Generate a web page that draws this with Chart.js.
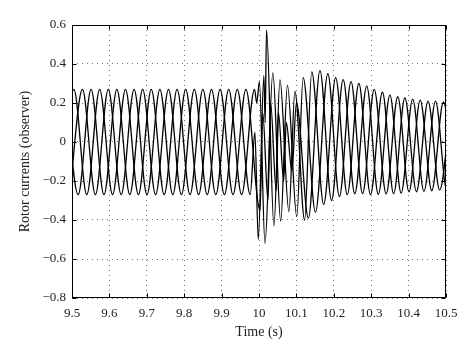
<!DOCTYPE html>
<html>
<head>
<meta charset="utf-8">
<script src="https://cdn.jsdelivr.net/npm/chart.js@4.4.0/dist/chart.umd.min.js"></script>
<style>
  html, body { margin: 0; padding: 0; background: #fff; }
  #wrap { width: 474px; height: 361px; }
</style>
</head>
<body>
<div id="wrap"><canvas id="rotorChart" width="474" height="361"></canvas></div>
<script>
'use strict';

// axis ticks
const timeTicks = [9.5, 9.6, 9.7, 9.8, 9.9, 10, 10.1, 10.2, 10.3, 10.4, 10.5];
const currentTicks = [-0.8, -0.6, -0.4, -0.2, 0, 0.2, 0.4, 0.6];

// phase a : turning points (time s, current)
const phaseATime = [9.4705, 9.505, 9.5395, 9.574, 9.6085, 9.643, 9.6775, 9.712, 9.7465, 9.781, 9.8155, 9.850, 9.8845, 9.919, 9.9535, 9.988,
  9.994, 10.001, 10.016, 10.037, 10.058, 10.076, 10.101,
  10.118, 10.151, 10.184, 10.215, 10.246, 10.277, 10.308, 10.340, 10.371, 10.401, 10.431, 10.462, 10.493, 10.524];
const phaseAValue = [-0.27, 0.27, -0.27, 0.27, -0.27, 0.27, -0.27, 0.27, -0.27, 0.27, -0.27, 0.27, -0.27, 0.27, -0.27, 0.27,
  0.2, 0.31, -0.52, 0.355, -0.405, 0.29, -0.383,
  0.33, -0.36, 0.35, -0.28, 0.31, -0.265, 0.27, -0.266, 0.232, -0.256, 0.215, -0.25, 0.205, -0.24];

// phase b
const phaseBTime = [9.4935, 9.528, 9.5625, 9.597, 9.6315, 9.666, 9.7005, 9.735, 9.7695, 9.804, 9.8385, 9.873, 9.9075, 9.942, 9.9765,
  9.989, 9.998, 10.013, 10.0165, 10.020, 10.040, 10.056, 10.080, 10.096,
  10.122, 10.141, 10.173, 10.205, 10.236, 10.267, 10.298, 10.330, 10.360, 10.390, 10.421, 10.452, 10.483, 10.514];
const phaseBValue = [-0.27, 0.27, -0.27, 0.27, -0.27, 0.27, -0.27, 0.27, -0.27, 0.27, -0.27, 0.27, -0.27, 0.27, -0.27,
  0.05, -0.50, 0.34, 0.1, 0.575, -0.43, 0.318, -0.357, 0.26,
  -0.40, 0.36, -0.32, 0.33, -0.27, 0.30, -0.27, 0.255, -0.265, 0.227, -0.255, 0.21, -0.246, 0.205];

// phase c
const phaseCTime = [9.482, 9.5165, 9.551, 9.5855, 9.620, 9.6545, 9.689, 9.7235, 9.758, 9.7925, 9.827, 9.8615, 9.896, 9.9305, 9.965,
  10.003, 10.010, 10.024, 10.031, 10.046, 10.052, 10.066, 10.073, 10.088, 10.100,
  10.132, 10.163, 10.194, 10.225, 10.256, 10.288, 10.319, 10.350, 10.380, 10.411, 10.441, 10.472, 10.502, 10.533];
const phaseCValue = [0.27, -0.27, 0.27, -0.27, 0.27, -0.27, 0.27, -0.27, 0.27, -0.27, 0.27, -0.27, 0.27, -0.27, 0.27,
  -0.35, 0.15, -0.3, 0.2, -0.25, 0.15, -0.2, 0.1, -0.15, 0.2,
  -0.39, 0.366, -0.30, 0.32, -0.265, 0.287, -0.268, 0.24, -0.262, 0.22, -0.253, 0.21, -0.243, 0.205];

function toPoints(times, values) {
  let pts = [];
  for (let i = 0; i < times.length; i++) {
    pts.push({ x: times[i], y: values[i] });
  }
  return pts;
}

function traceDataset(times, values) {
  return {
    data: toPoints(times, values),
    borderColor: '#000',
    borderWidth: 1.3,
    pointRadius: 0,
    fill: false,
    cubicInterpolationMode: 'monotone'
  };
}

const serif = 'Liberation Serif, Times New Roman, serif';

// matlab style box with inward ticks
const boxPlugin = {
  id: 'boxPlugin',
  afterDraw(chart) {
    const { ctx, chartArea: a, scales: { x, y } } = chart;
    const L = Math.round(a.left) + 0.5, R = Math.round(a.right) - 0.5;
    const T = Math.round(a.top) + 0.5, B = Math.round(a.bottom) - 0.5;
    ctx.save();
    ctx.strokeStyle = '#000';
    ctx.lineWidth = 1;
    ctx.strokeRect(L, T, R - L, B - T);
    ctx.beginPath();
    timeTicks.forEach(t => {
      const px = Math.round(x.getPixelForValue(t)) + 0.5;
      ctx.moveTo(px, B); ctx.lineTo(px, B - 4);
      ctx.moveTo(px, T); ctx.lineTo(px, T + 4);
    });
    currentTicks.forEach(v => {
      const py = Math.round(y.getPixelForValue(v)) + 0.5;
      ctx.moveTo(L, py); ctx.lineTo(L + 4, py);
      ctx.moveTo(R, py); ctx.lineTo(R - 4, py);
    });
    ctx.stroke();
    ctx.restore();
  }
};

const ctx = document.getElementById('rotorChart').getContext('2d');
const rotorChart = new Chart(ctx, {
  type: 'line',
  data: {
    datasets: [
      traceDataset(phaseATime, phaseAValue),
      traceDataset(phaseBTime, phaseBValue),
      traceDataset(phaseCTime, phaseCValue)
    ]
  },
  options: {
    responsive: false,
    animation: false,
    layout: { padding: { left: 0, top: 25, right: 28, bottom: 0 } },
    plugins: { legend: { display: false }, tooltip: { enabled: false } },
    scales: {
      x: {
        type: 'linear',
        min: 9.5,
        max: 10.5,
        afterBuildTicks: (scale) => { scale.ticks = timeTicks.map(v => ({ value: v })); },
        afterFit: (scale) => { scale.height = 63; },
        grid: { color: '#777', lineWidth: 1, drawTicks: false },
        border: { display: false, dash: [1, 4] },
        ticks: {
          padding: 8,
          maxRotation: 0,
          autoSkip: false,
          color: '#222',
          font: { family: serif, size: 13 },
          callback: (v) => String(Number(Number(v).toFixed(1)))
        },
        title: {
          display: true,
          text: 'Time (s)',
          color: '#222',
          font: { family: serif, size: 14 },
          padding: { top: 0, bottom: 20 }
        }
      },
      y: {
        type: 'linear',
        min: -0.8,
        max: 0.6,
        afterBuildTicks: (scale) => { scale.ticks = currentTicks.map(v => ({ value: v })); },
        afterFit: (scale) => { scale.width = 72; },
        grid: { color: '#777', lineWidth: 1, drawTicks: false },
        border: { display: false, dash: [1, 4] },
        ticks: {
          padding: 6,
          color: '#222',
          font: { family: serif, size: 13 },
          callback: (v) => String(Number(Number(v).toFixed(1))).replace('-', '\u2212')
        },
        title: {
          display: true,
          text: 'Rotor currents (observer)',
          color: '#222',
          font: { family: serif, size: 14 },
          padding: { top: 17, bottom: 0 }
        }
      }
    }
  },
  plugins: [boxPlugin]
});
</script>
</body>
</html>
